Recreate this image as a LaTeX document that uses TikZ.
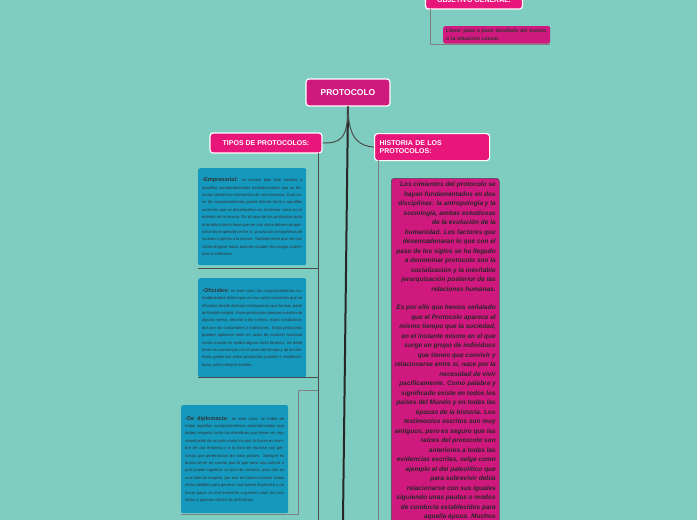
\documentclass[tikz,border=0pt]{standalone}
\usepackage{fontspec}
\setmainfont{Liberation Sans}
\begin{document}
\begin{tikzpicture}[x=1pt,y=-1pt,
  topic/.style={draw=white,line width=1.2pt,rounded corners=3pt,fill=#1,text=white,font=\bfseries},
  blue/.style={fill=boxblue,rounded corners=2pt,text=black!80,align=justify,inner sep=4pt,anchor=north west,font=\fontsize{4.1}{7.4}\selectfont},
  conn/.style={draw=black!70,line width=0.8pt},
  thick conn/.style={draw=black!85,line width=2pt}]
\definecolor{bg}{HTML}{7FCDC0}
\definecolor{boxblue}{HTML}{1598BE}
\definecolor{mag}{HTML}{D0197F}
\definecolor{pinkt}{HTML}{E8157A}
\fill[bg] (0,0) rectangle (697,520);
\useasboundingbox (0,0) rectangle (697,520);
% nodes
\node[topic=mag,minimum width=84,minimum height=27,font=\bfseries\fontsize{8.5}{9}\selectfont] (p) at (348,92.5) {PROTOCOLO};
\node[topic=pinkt,minimum width=112,minimum height=20,font=\bfseries\fontsize{7}{8}\selectfont] (t) at (266,143) {TIPOS DE PROTOCOLOS:};
\node[topic=pinkt,minimum width=115,minimum height=27,align=left,anchor=north west,font=\bfseries\fontsize{7}{8}\selectfont,text width=105] (h) at (374,133) {HISTORIA DE LOS\\PROTOCOLOS:};
\node[topic=pinkt,minimum width=97,minimum height=18,font=\bfseries\fontsize{7}{8}\selectfont] (o) at (474,0) {OBJETIVO GENERAL:};
\node[fill=mag,rounded corners=2pt,anchor=north west,text width=101,inner sep=3pt,text=black!80,font=\bfseries\fontsize{5.2}{7.5}\selectfont] (ll) at (443,26) {Llever paso a paso detallado del evento o la situacion causal.};
\node[blue,text width=100,minimum height=97] (e) at (198,168) {\textbf{\fontsize{5.6}{7}\selectfont -Empresarial:} se conoce bajo este nombre a aquellos comportamientos estandarizados que se formulan desde los estamentos de una empresa. Esta serie de comportamientos puede afectar tanto a aquellas acciones que se desempeñan en el interior como en el exterior de la misma. En el caso de los protocolos para el ámbito interno tiene que ver con cómo deben comportarse los empleados entre sí, ya sea con compañeros de su área o ajenos a la misma. También tiene que ver con cómo dirigirse hacia quienes ocupen los cargos superiores e inferiores.};
\node[blue,text width=100,minimum height=99] (of) at (198,278) {\textbf{\fontsize{5.6}{7}\selectfont -Oficiales:} en este caso, los comportamientos estandarizados tienen que ver con actos o eventos que se efectúan desde distintas instituciones que forman parte del ámbito estatal. Estos protocolos siempre cuentan de alguna norma, decreto o ley o leyes, están condicionados por las costumbres y tradiciones. Estos protocolos pueden aplicarse tanto en actos de carácter nacional como cuando se reciba alguna visita foránea. Se debe tener en cuenta que con el paso del tiempo y de los distintos gobiernos estos protocolos pueden ir modificándose, pero siempre existen.};
\node[blue,text width=99,minimum height=108] (d) at (181,405) {\textbf{\fontsize{5.6}{7}\selectfont -De diplomacia:} en este caso, se habla de todos aquellos comportamientos estandarizados que deben respetar tanto los miembros que tienen en representación de un país como los que lo hacen en nombre de una empresa o a la hora de reunirse con personas que pertenezcan de otros países. Siempre es bueno tener en cuenta que lo que para una cultura o país puede significar un acto de cortesía, para otra es una falta de respeto, por eso es bueno conocer todos estos detalles para generar una buena impresión y no hacer pasar un mal momento a quienes sean los invitados o quienes oficien de anfitriones.};
\node[fill=mag,draw=black!70,line width=0.6pt,rounded corners=3pt,anchor=north west,text width=101,inner sep=3.5pt,align=flush right,text=black!85,font=\bfseries\itshape\fontsize{6.5}{9.5}\selectfont] (ht) at (391,178) {Los cimientos del protocolo se hayan fundamentados en dos disciplinas: la antropología y la sociología, ambas estudiosas de la evolución de la humanidad. Los factores que desencadenaran lo que con el paso de los siglos se ha llegado a denominar protocolo son la socialización y la inevitable jerarquización posterior de las relaciones humanas.\\[9pt] Es por ello que hemos señalado que el Protocolo aparece al mismo tiempo que la sociedad, en el instante mismo en el que surge un grupo de individuos que tienen que convivir y relacionarse entre sí, nace por la necesidad de vivir pacíficamente. Como palabra y significado existe en todos los países del Mundo y en todas las épocas de la historia. Los testimonios escritos son muy antiguos, pero es seguro que las raíces del protocolo son anteriores a todas las evidencias escritas, valga como ejemplo el del paleolítico que para sobrevivir debía relacionarse con sus iguales siguiendo unas pautas o modos de conducta establecidos para aquella época. Muchos historiadores indican que ya existían términos y expresiones protocolarias que se pueden evidenciar en documentos y referencias escritas muy antiguas.};
% connectors
\coordinate (pb) at (348,106.5);
\coordinate (bot) at (343,520);
\draw[thick conn] (pb) -- (bot);
\draw[conn,line width=1pt] (pb) .. controls (348,140) and (340,143) .. (t.east);
\draw[conn,line width=1pt] (pb) .. controls (348,140) and (360,146) .. (h.west);
\coordinate (tv) at (318,153);
\coordinate (tb) at (318,520);
\draw[conn] (tv) -- (tb);
\coordinate (te) at (318,268);
\draw[conn] (e.south west |- te) -- (te);
\coordinate (to) at (318,377);
\draw[conn] (of.south west |- to) -- (to);
\coordinate (td1) at (318,390);
\coordinate (td2) at (298,390);
\coordinate (td3) at (298,514);
\draw[conn,draw=black!50] (td1) -- (td2) -- (td3) -- (td3 -| d.west);
\coordinate (hv) at (378,160);
\coordinate (hb) at (378,520);
\draw[conn,draw=black!50] (hv) -- (hb);
\coordinate (ov) at (430,9);
\coordinate (oc) at (430,44);
\draw[conn,draw=black!50] (ov) -- (oc) -- (oc -| ll.east);
\end{tikzpicture}
\end{document}
